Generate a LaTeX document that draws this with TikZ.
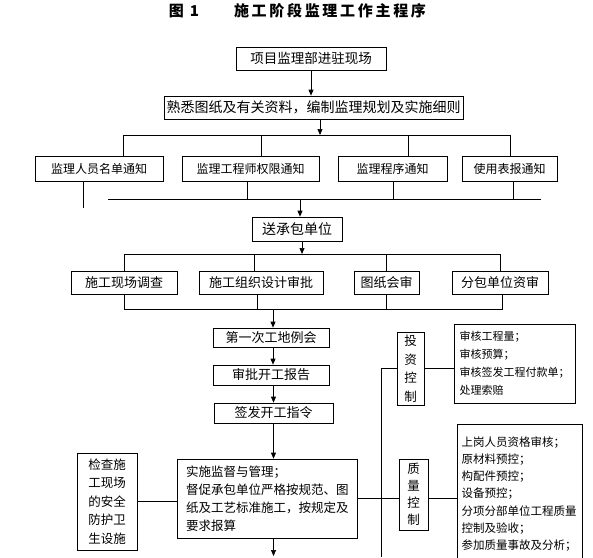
\documentclass[tikz,border=0pt]{standalone}
\usepackage{fontspec}
\newfontfamily\cjk{Noto Sans CJK SC}
\newfontfamily\titlefont{Noto Sans CJK SC}[LetterSpace=18]
\usetikzlibrary{arrows.meta}
\begin{document}
\begin{tikzpicture}[x=1pt,y=-1pt,
  box/.style={draw,line width=0.7pt,inner sep=0pt,font=\cjk\fontsize{12.5pt}{18pt}\selectfont},
  arr/.style={line width=0.7pt,-{Triangle[length=6pt,width=5pt]}},
  ln/.style={line width=0.7pt}]
  \clip (0,0) rectangle (593,557);
  % title
  \node[font=\titlefont\bfseries\fontsize{15pt}{15pt}\selectfont] (fig) at (184,11) {图 1};
  \node[font=\titlefont\bfseries\fontsize{15pt}{15pt}\selectfont] (title) at (330,11) {施工阶段监理工作主程序};
  % top part
  \node[box,minimum width=150pt,minimum height=23pt,font=\cjk\fontsize{13.5pt}{16pt}\selectfont] (enter) at (311,58.5) {项目监理部进驻现场};
  \node[box,minimum width=299pt,minimum height=23pt,font=\cjk\fontsize{14pt}{16pt}\selectfont] (study) at (313.5,107.5) {熟悉图纸及有关资料，编制监理规划及实施细则};
  \node[box,minimum width=128pt,minimum height=25pt,font=\cjk\fontsize{12pt}{14pt}\selectfont] (n1) at (99,168.5) {监理人员名单通知};
  \node[box,minimum width=137pt,minimum height=25pt,font=\cjk\fontsize{12pt}{14pt}\selectfont] (n2) at (250.5,168.5) {监理工程师权限通知};
  \node[box,minimum width=109pt,minimum height=25pt,font=\cjk\fontsize{12pt}{14pt}\selectfont] (n3) at (392.5,168.5) {监理程序通知};
  \node[box,minimum width=95pt,minimum height=25pt,font=\cjk\fontsize{12pt}{14pt}\selectfont] (n4) at (509.5,168.5) {使用表报通知};
  \node[box,minimum width=90pt,minimum height=24pt,font=\cjk\fontsize{14pt}{16pt}\selectfont] (send) at (297,229) {送承包单位};
  \node[box,minimum width=106pt,minimum height=23pt,font=\cjk\fontsize{13pt}{15pt}\selectfont] (e1) at (124,282.5) {施工现场调查};
  \node[box,minimum width=124pt,minimum height=23pt,font=\cjk\fontsize{13pt}{15pt}\selectfont] (e2) at (261,282.5) {施工组织设计审批};
  \node[box,minimum width=65pt,minimum height=23pt,font=\cjk\fontsize{13pt}{15pt}\selectfont] (e3) at (386.5,282.5) {图纸会审};
  \node[box,minimum width=96pt,minimum height=23pt,font=\cjk\fontsize{13pt}{15pt}\selectfont] (e4) at (500,282.5) {分包单位资审};
  % middle column
  \node[box,minimum width=116pt,minimum height=19pt,font=\cjk\fontsize{13pt}{15pt}\selectfont] (meet) at (271,337.5) {第一次工地例会};
  \node[box,minimum width=116pt,minimum height=20pt,font=\cjk\fontsize{13pt}{15pt}\selectfont] (report) at (271,375) {审批开工报告};
  \node[box,minimum width=119pt,minimum height=20pt,font=\cjk\fontsize{13pt}{15pt}\selectfont] (order) at (273.5,413) {签发开工指令};
  \node[box,minimum width=180pt,minimum height=79pt,text width=162pt,align=left] (supervise) at (267,498.5)
    {实施监督与管理；\\督促承包单位严格按规范、图\\纸及工艺标准施工，按规定及\\要求报算};
  \node[box,minimum width=60pt,minimum height=97pt,align=center,font=\cjk\fontsize{12.5pt}{18.5pt}\selectfont] (safety) at (107,501.5)
    {检查施\\工现场\\的安全\\防护卫\\生设施};
  % right side
  \node[box,minimum width=27pt,minimum height=73pt,align=center,font=\cjk\fontsize{12.5pt}{18.5pt}\selectfont] (invest) at (410.5,368.5) {投\\资\\控\\制};
  \node[box,minimum width=121pt,minimum height=79pt,text width=110pt,align=left,font=\cjk\fontsize{11pt}{18pt}\selectfont] (investjob) at (514.5,363.5)
    {审核工程量；\\审核预算；\\审核签发工程付款单；\\处理索赔};
  \node[box,minimum width=29pt,minimum height=71pt,align=center,font=\cjk\fontsize{12.5pt}{17pt}\selectfont] (quality) at (413.5,494.5) {质\\量\\控\\制};
  \node[box,minimum width=125pt,minimum height=140pt,text width=116pt,align=left,font=\cjk\fontsize{11.5pt}{17.3pt}\selectfont] (qualityjob) at (519.5,494)
    {上岗人员资格审核；\\原材料预控；\\构配件预控；\\设备预控；\\分项分部单位工程质量\\控制及验收；\\参加质量事故及分析；};
  % buses
  \coordinate (bus1l) at (123,135);
  \coordinate (bus1r) at (510,135);
  \coordinate (bus1m) at (320,135);
  \coordinate (bus1b) at (261,135);
  \coordinate (bus1c) at (408,135);
  \coordinate (bus2l) at (108,199);
  \coordinate (bus2r) at (541,199);
  \coordinate (bus3l) at (124,254);
  \coordinate (bus4) at (124,309);
  \coordinate (spine) at (381,557);
  \coordinate (bottom) at (273.5,556);
  % connectors
  \draw[arr] (enter.south) -- (enter.south |- study.north);
  \draw[arr] (study.south -| bus1m) -- (bus1m);
  \draw[ln] (n1.north -| bus1l) |- (bus1r) -- (bus1r |- n4.north);
  \draw[ln] (bus1b) -- (bus1b |- n2.north);
  \draw[ln] (bus1c) -- (bus1c |- n3.north);
  \draw[ln] (bus2l) -- (bus2r);
  \draw[ln] ([xshift=-16pt]n1.south) -- ++(0,27);
  \draw[ln] ([xshift=-3.5pt]n2.south) -- ([xshift=-3.5pt]n2.south |- bus2l);
  \draw[ln] ([xshift=0.5pt]n3.south) -- ([xshift=0.5pt]n3.south |- bus2l);
  \draw[ln] ([xshift=3.5pt]n4.south) -- ([xshift=3.5pt]n4.south |- bus2l);
  \draw[arr] ([xshift=3pt]send.north |- bus2l) -- ([xshift=3pt]send.north);
  \draw[arr] ([xshift=5pt]send.south) -- ([xshift=5pt]send.south |- bus3l);
  \draw[ln] (e1.north) |- (bus3l -| e4.north) -- (e4.north);
  \draw[ln] ([xshift=-7pt]e2.north) -- ++(0,-17);
  \draw[ln] (e3.north) -- ++(0,-17);
  \draw[ln] (e1.south) |- ([xshift=2pt]bus4 -| e4.south) -- ([xshift=2pt]e4.south);
  \draw[ln] ([xshift=-4pt]e2.south) -- ++(0,15);
  \draw[ln] (e3.south) -- ++(0,15);
  \draw[arr] ([xshift=2pt]meet.north |- bus4) -- ([xshift=2pt]meet.north);
  \draw[arr] ([xshift=2pt]meet.south) -- ([xshift=2pt]report.north);
  \draw[arr] (report.south -| order.north) -- (order.north);
  \draw[arr] (order.south) -- (order.south |- supervise.north);
  \draw[arr] (supervise.south -| order.south) -- (bottom);
  \draw[ln] (safety.east) -- (safety.east -| supervise.west);
  \draw[ln] (supervise.east) -- (supervise.east -| quality.west);
  \draw[ln] (supervise.east -| quality.east) -- (supervise.east -| qualityjob.west);
  \draw[ln] (spine) |- (invest.west);
  \draw[ln] (invest.east) -- (invest.east -| investjob.west);
\end{tikzpicture}
\end{document}
